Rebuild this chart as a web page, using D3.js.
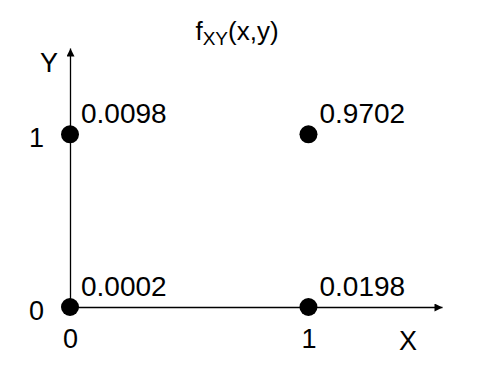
<!DOCTYPE html>
<html>
<head>
<meta charset="utf-8">
<script src="https://cdn.jsdelivr.net/npm/d3@7"></script>
<style>
  body { margin: 0; background: #fff; }
  text { font-family: "Liberation Sans", Arial, sans-serif; fill: #000; }
</style>
</head>
<body>
<div id="chart"></div>
<script>
// 同時確率 f_XY(x,y) のデータ
const xValues = [0, 1, 0, 1];
const yValues = [0, 0, 1, 1];
const probLabels = ['0.0002', '0.0198', '0.0098', '0.9702'];
const tickValues = [0, 1];

const width = 479, height = 379;

const svg = d3.select('#chart').append('svg')
    .attr('width', width)
    .attr('height', height);

// スケール（矢印の先まで少し広げる）
const x = d3.scaleLinear().domain([0, 1.56]).range([70, 442]);
const y = d3.scaleLinear().domain([0, 1.5]).range([307, 48]);

// 矢印マーカー
svg.append('defs').append('marker')
    .attr('id', 'arrow')
    .attr('markerUnits', 'userSpaceOnUse')
    .attr('viewBox', '0 0 10 10')
    .attr('refX', 10)
    .attr('refY', 5)
    .attr('markerWidth', 11)
    .attr('markerHeight', 8)
    .attr('orient', 'auto')
    .append('path')
    .attr('d', 'M0,0L10,5L0,10Z')
    .attr('fill', '#000');

// X軸
const xAxis = svg.append('g')
    .attr('transform', `translate(0,${y(0)})`)
    .call(d3.axisBottom(x).tickValues(tickValues).tickSize(0).tickSizeOuter(0).tickPadding(22).tickFormat(d3.format('d')));

// Y軸
const yAxis = svg.append('g')
    .attr('transform', `translate(${x(0)},0)`)
    .call(d3.axisLeft(y).tickValues(tickValues).tickSize(0).tickSizeOuter(0).tickPadding(26).tickFormat(d3.format('d')));

[xAxis, yAxis].forEach(g => {
    g.attr('font-family', null).attr('font-size', null);
    g.select('.domain')
        .attr('stroke', '#000')
        .attr('stroke-width', 1.3)
        .attr('marker-end', 'url(#arrow)');
    g.selectAll('.tick text')
        .style('font-size', '27px')
        .attr('fill', '#000');
});
yAxis.selectAll('.tick text').attr('dy', '0.45em');

// 軸ラベル
svg.append('text')
    .attr('x', 408).attr('y', 350)
    .attr('text-anchor', 'middle')
    .style('font-size', '27px')
    .text('X');

svg.append('text')
    .attr('x', 49).attr('y', 72)
    .attr('text-anchor', 'middle')
    .style('font-size', '27px')
    .text('Y');

// タイトル
const title = svg.append('text')
    .attr('x', 237).attr('y', 40)
    .attr('text-anchor', 'middle')
    .style('font-size', '26px');
title.append('tspan').text('f');
title.append('tspan').attr('dy', 5).style('font-size', '19px').text('XY');
title.append('tspan').attr('dy', -5).text('(x,y)');

// 点と確率ラベル
const points = xValues.map((d, i) => ({ x: d, y: yValues[i], label: probLabels[i] }));

svg.selectAll('.pt')
    .data(points)
    .enter()
    .append('circle')
    .attr('class', 'pt')
    .attr('cx', d => x(d.x))
    .attr('cy', d => y(d.y))
    .attr('r', 9)
    .attr('fill', '#000');

svg.selectAll('.pt-label')
    .data(points)
    .enter()
    .append('text')
    .attr('class', 'pt-label')
    .attr('x', d => x(d.x) + 11)
    .attr('y', d => y(d.y) - 11)
    .style('font-size', '28px')
    .text(d => d.label);
</script>
</body>
</html>
